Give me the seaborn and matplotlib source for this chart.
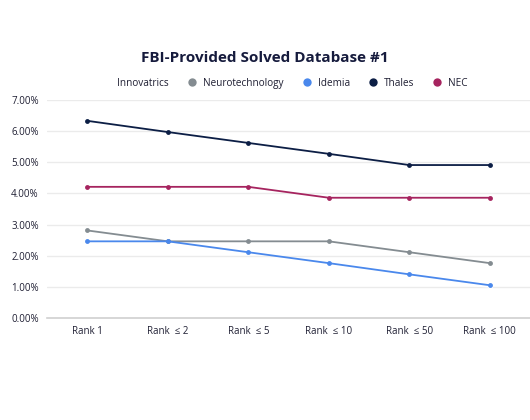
import matplotlib
matplotlib.use("Agg")
import matplotlib.pyplot as plt
import seaborn as sns
import pandas as pd
from matplotlib.ticker import FuncFormatter, MultipleLocator
from matplotlib.lines import Line2D

ranks = ["Rank 1", "Rank  ≤ 2", "Rank  ≤ 5", "Rank  ≤ 10", "Rank  ≤ 50", "Rank  ≤ 100"]
series_names = ["Innovatrics", "Neurotechnology", "Idemia", "Thales", "NEC"]
innovatrics = [1.76, 1.72, 1.55, 1.41, 1.20, 1.00]
neurotechnology = [2.81, 2.46, 2.46, 2.46, 2.11, 1.76]
idemia = [2.46, 2.46, 2.11, 1.76, 1.40, 1.05]
thales = [6.33, 5.97, 5.62, 5.27, 4.91, 4.91]
nec = [4.21, 4.21, 4.21, 3.86, 3.86, 3.86]
colors = ["#ffffff", "#848c91", "#4a88ec", "#0c1e45", "#a6245f"]

values = [innovatrics, neurotechnology, idemia, thales, nec]
rows = []
for name, vals in zip(series_names, values):
    for r, v in zip(ranks, vals):
        rows.append({"rank": r, "vendor": name, "value": v})
df = pd.DataFrame(rows)
df["rank"] = pd.Categorical(df["rank"], categories=ranks, ordered=True)

sns.set_theme(style="white")
plt.rcParams["font.family"] = ["Open Sans", "DejaVu Sans"]

fig = plt.figure(figsize=(5.3, 4.2), dpi=100)
ax = fig.add_axes([0.0887, 0.243, 0.9113, 0.519])

palette = dict(zip(series_names, colors))
sns.lineplot(data=df, x="rank", y="value", hue="vendor", hue_order=series_names,
             palette=palette, marker="o", markersize=3.5, markeredgewidth=0,
             linewidth=1.3, ax=ax, legend=False, sort=False)

ax.set_xlim(-0.5, 5.5)
ax.set_ylim(0, 7)
ax.yaxis.set_major_locator(MultipleLocator(1))
ax.yaxis.set_major_formatter(FuncFormatter(lambda v, p: f"{v:.2f}%"))
ax.grid(axis="y", color="#ebebeb", linewidth=1)
ax.grid(axis="x", visible=False)
for s in ["top", "right", "left"]:
    ax.spines[s].set_visible(False)
ax.spines["bottom"].set_color("#d0d0d0")
ax.spines["bottom"].set_linewidth(1.2)
ax.set_axisbelow(True)
ax.tick_params(axis="both", length=0, labelsize=7, colors="#1f1f33", pad=6)
ax.set_xlabel("")
ax.set_ylabel("")

fig.text(0.5, 0.862, "FBI-Provided Solved Database #1", ha="center", va="center",
         fontsize=11, fontweight="bold", color="#161b3d")

handles = []
for name, c in zip(series_names, colors):
    handles.append(Line2D([0], [0], marker="o", linestyle="", markersize=6,
                          markerfacecolor=c, markeredgewidth=0, label=name))
fig.legend(handles=handles, loc="center", bbox_to_anchor=(0.532, 0.802), ncol=5,
           frameon=False, fontsize=7.2, handletextpad=0.1, columnspacing=1.3,
           labelcolor="#1f1f33")

fig.savefig("out.png", dpi=100, facecolor="white")
